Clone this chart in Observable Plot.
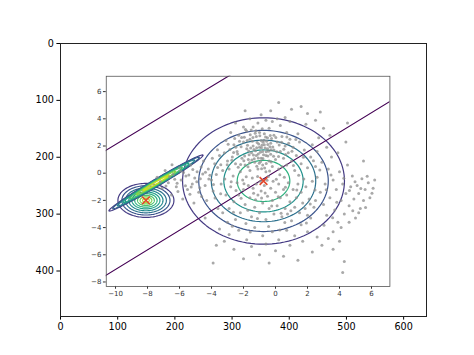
<!DOCTYPE html>
<html><head><meta charset="utf-8">
<script src="https://cdn.jsdelivr.net/npm/d3@7"></script>
<script src="https://cdn.jsdelivr.net/npm/@observablehq/plot@0.6"></script>
<style>
html,body{margin:0;padding:0;background:#fff;}
#wrap{position:relative;width:474px;height:355px;}
#wrap svg{position:absolute;left:0;top:0;}
</style></head><body><div id="wrap"></div>
<script>
// ---- outer axes (image pixel coordinates) ----
const outerXDomain = [0, 640];
const outerYDomain = [0, 480];
const outerXTicks = [0, 100, 200, 300, 400, 500, 600];
const outerYTicks = [0, 100, 200, 300, 400];

// ---- inner chart ----
const innerXDomain = [-10.58, 7.15];
const innerYDomain = [-8.33, 7.13];
const innerXTicks = [-10, -8, -6, -4, -2, 0, 2, 4, 6];
const innerYTicks = [-8, -6, -4, -2, 0, 2, 4, 6];

// Gaussian components: centre and two conjugate semi-axes of the outer contour
const compX  = [-0.75, -8.1, -7.47];
const compY  = [-0.57, -2.0, -0.72];
const compAx = [5.06, 1.75, 2.94];
const compAy = [0, 0, 2.05];
const compBx = [0, 0, 0.115];
const compBy = [4.65, 1.25, -0.23];

// contour rings: component, relative size, contour level (0..1)
const ringComp  = [0,0,0,0,0, 1,1,1,1,1,1,1,1,1, 2,2,2,2,2,2,2];
const ringScale = [1,0.8,0.645,0.49,0.325, 1,0.86,0.73,0.61,0.5,0.4,0.3,0.21,0.12, 1,0.92,0.82,0.7,0.56,0.42,0.28];
const ringLevel = [0.17,0.26,0.37,0.5,0.64, 0.17,0.26,0.37,0.47,0.56,0.64,0.72,0.8,0.88, 0.17,0.3,0.45,0.6,0.72,0.82,0.92];

// straight boundary lines (level 0)
const boundaryId = ["upper", "upper", "lower", "lower"];
const boundaryX  = [-10.7, -2.8, -10.7, 7.3];
const boundaryY  = [1.61, 7.24, -7.58, 5.39];

// component means (markers)
const meanX = [-0.75, -8.1];
const meanY = [-0.57, -2.0];

// scatter samples (x, y)
const samples = [
 [-7.4,-0.3],[-7.1,-1.1],[-6.9,0.2],[-6.7,-0.7],[-6.5,-1.6],[-6.4,-0.1],[-6.2,-1.0],[-6.0,0.4],[-5.9,-0.5],[-5.8,-1.9],
 [-5.6,-0.2],[-5.5,-1.2],[-5.3,0.6],[-5.2,-0.8],[-5.1,-2.2],[-4.9,0.1],[-4.8,-1.4],[-4.7,-0.4],[-4.5,0.9],[-4.4,-0.9],
 [-4.3,-2.0],[-4.2,0.3],[-4.0,-0.5],[-3.9,-1.3],[-3.8,0.7],[-3.7,-0.1],[-3.6,-2.6],[-3.5,1.3],[-3.4,-0.8],[-3.3,0.2],
 [-6.3,-0.45],[-5.75,0.05],[-5.05,-0.35],[-4.55,-0.05],[-6.85,-0.95],[-4.1,-0.15],[-5.35,-1.55],[-6.1,-1.35],[-4.65,0.45],[-3.95,1.1],
 [-7.2,-0.62],[-6.62,-0.27],[-6.15,-0.73],[-5.93,0.17],[-5.63,-0.93],[-5.42,-0.13],[-5.17,0.27],[-4.92,-0.62],[-4.73,-1.07],[-4.38,0.07],
 [-4.17,-0.42],[-3.88,-0.83],[-3.62,0.42],[-3.43,-1.52],[-3.17,-0.43],[-3.02,0.63],[-6.47,0.62],[-5.27,-1.02],[-4.62,-1.72],[-3.78,-1.82],
 [-2.9,0.3],[-2.7,1.2],[-2.6,2.1],[-2.5,0.7],[-2.4,1.6],[-2.3,2.8],[-2.2,0.1],[-2.1,1.1],[-2.0,2.3],[-1.9,0.6],
 [-1.8,1.8],[-1.8,3.1],[-1.7,1.0],[-1.6,2.5],[-1.6,0.2],[-1.5,1.5],[-1.4,3.4],[-1.4,2.0],[-1.3,0.8],[-1.2,2.7],
 [-1.2,1.3],[-1.1,0.3],[-1.0,1.9],[-1.0,3.0],[-0.9,1.1],[-0.9,2.4],[-0.8,0.6],[-0.8,1.6],[-0.7,2.9],[-0.7,2.1],
 [-0.6,1.3],[-0.6,0.1],[-0.5,2.6],[-0.5,1.8],[-0.4,0.9],[-0.4,3.3],[-0.3,2.2],[-0.3,1.4],[-0.2,0.5],[-0.1,2.8],
 [-0.1,1.7],[0.0,1.0],[0.1,2.3],[0.2,0.3],[0.3,1.6],[0.4,2.7],[0.5,1.1],[0.6,2.0],[0.7,0.6],[0.8,1.5],
 [0.9,2.5],[1.0,0.9],[1.1,1.9],[1.2,0.2],[1.3,1.3],[1.5,2.3],[1.6,0.7],[1.8,1.7],[2.0,0.4],[2.2,1.2],
 [-2.85,1.75],[-2.55,2.55],[-2.15,1.95],[-1.95,2.65],[-1.65,1.35],[-1.35,1.75],[-1.15,2.25],[-0.95,1.55],[-0.85,2.05],[-0.65,1.85],
 [-0.55,2.35],[-0.35,1.95],[-0.25,2.55],[-1.45,2.35],[-1.25,1.65],[-1.05,2.15],[-0.75,1.35],[-1.55,1.85],[-2.25,2.35],[-1.75,2.05],
 [-3.2,1.5],[-3.1,2.4],[-3.0,0.9],[-2.8,3.0],[-2.0,3.4],[-1.1,3.7],[0.3,3.5],[0.7,3.0],[1.4,2.9],[-0.2,3.8],
 [-2.65,-0.2],[-1.45,-0.35],[-0.45,-0.25],[0.55,-0.3],[1.45,-0.15],[-2.05,-0.5],[-0.95,-0.6],[0.05,-0.45],[2.5,0.5],[2.6,1.6],
 [-2.37,1.42],[-2.18,0.64],[-1.93,1.27],[-1.72,0.47],[-1.58,2.83],[-1.33,1.07],[-1.17,0.52],[-0.98,2.76],[-0.87,0.33],[-0.72,2.43],
 [-0.58,0.71],[-0.43,1.62],[-0.27,0.83],[-0.12,1.24],[0.08,1.57],[0.23,2.07],[0.41,0.47],[0.63,1.38],[0.82,2.21],[1.03,1.62],
 [-2.73,0.96],[-2.48,1.91],[-2.12,2.62],[-1.88,3.22],[-1.62,0.77],[-1.41,2.62],[-1.22,3.12],[-1.08,1.41],[-0.93,0.86],[-0.79,1.09],
 [-0.62,2.66],[-0.48,1.27],[-0.33,2.77],[-0.17,1.92],[0.02,2.62],[0.19,1.22],[0.38,2.28],[0.52,1.77],[0.71,2.66],[1.27,2.48],
 [-2.96,2.13],[-2.62,1.52],[-2.33,0.44],[-1.98,0.91],[-1.77,2.41],[-1.52,3.17],[-1.27,2.93],[-1.02,0.73],[-0.83,3.27],[-0.68,0.38],
 [-3.42,0.63],[-3.63,1.72],[-2.77,-0.63],[-1.83,-0.27],[-1.12,-0.24],[-0.37,0.17],[0.27,-0.12],[1.12,0.57],[1.74,1.17],[2.37,0.92],
 [-1.68,1.63],[-1.48,0.97],[-1.18,1.87],[-0.88,1.87],[-0.58,1.57],[-0.28,1.72],[-1.38,1.33],[-1.08,1.12],[-0.78,2.27],[-0.48,2.12],
 [-2.8,-1.0],[-2.6,-2.1],[-2.4,-0.7],[-2.3,-1.6],[-2.2,-2.9],[-2.0,-1.2],[-1.9,-2.3],[-1.7,-0.9],[-1.6,-1.8],[-1.5,-3.2],
 [-1.4,-1.1],[-1.3,-2.5],[-1.2,-0.8],[-1.1,-1.6],[-1.0,-2.9],[-0.9,-1.3],[-0.8,-2.2],[-0.7,-0.9],[-0.6,-3.4],[-0.5,-1.7],
 [-0.4,-2.6],[-0.3,-1.1],[-0.2,-2.0],[-0.1,-3.0],[0.0,-1.4],[0.1,-2.4],[0.2,-0.8],[0.3,-1.8],[0.4,-3.2],[0.5,-1.2],
 [0.6,-2.6],[0.7,-1.6],[0.8,-0.7],[0.9,-2.1],[1.0,-3.5],[1.1,-1.2],[1.2,-2.5],[1.3,-1.8],[1.4,-0.8],[1.5,-2.9],
 [1.6,-1.4],[1.7,-2.2],[1.9,-1.0],[2.0,-3.1],[2.1,-1.9],[2.3,-0.6],[2.4,-2.5],[-2.9,-2.6],[-3.1,-1.6],[-2.5,-3.4],
 [-1.85,-3.7],[-0.65,-1.45],[-0.15,-0.6],[0.35,-2.95],[-1.25,-1.95],[-2.15,-1.85],[0.75,-3.0],[1.85,-2.6],[-3.3,-2.9],[-2.7,-3.9],
 [-2.47,-1.27],[-1.97,-0.77],[-1.73,-2.73],[-1.37,-1.47],[-0.87,-1.83],[-0.53,-0.52],[-0.24,-2.42],[0.17,-1.73],[0.62,-1.03],[0.96,-2.77],
 [1.33,-1.23],[1.77,-0.43],[2.17,-2.27],[-2.63,-2.87],[-1.13,-3.33],[0.58,-3.63],[-0.43,-3.92],[-1.58,-4.33],[0.27,-4.17],[1.93,-3.67],
 [2.6,-0.3],[2.8,-1.4],[2.9,0.8],[3.0,-2.3],[3.1,-0.8],[3.2,-3.1],[3.3,0.3],[3.4,-1.8],[3.5,1.2],[3.6,-0.5],
 [3.7,-2.7],[3.8,-1.2],[3.9,-3.6],[4.0,0.1],[4.1,-2.0],[4.2,-0.8],[4.3,-3.0],[4.4,-1.5],[4.5,0.6],[4.6,-2.4],
 [4.7,-1.0],[4.8,-0.2],[4.9,-1.9],[5.0,-3.3],[5.1,-0.9],[5.2,-1.5],[5.3,-2.6],[5.4,-0.4],[5.5,-2.0],[5.6,-1.2],
 [5.8,-0.7],[5.9,-1.8],[6.1,-1.1],[6.2,-0.5],[2.3,2.1],[2.7,2.6],[3.2,1.9],[3.9,1.5],[4.4,2.3],[2.5,-2.0],
 [2.2,-3.3],[4.1,-4.0],[3.6,-4.3],[4.6,-3.6],[5.2,-2.9],
 [2.77,0.23],[3.17,-1.22],[3.47,-0.13],[3.83,-2.13],[4.27,-0.37],[4.62,-1.27],[4.97,-0.63],[5.33,-1.13],[5.73,-0.23],[6.03,-1.47],
 [2.47,-1.23],[3.03,-3.82],[3.57,-3.27],[4.83,-2.77],[5.63,-2.52],
 [-3.5,-4.1],[-3.2,-5.0],[-2.9,-4.5],[-2.6,-5.6],[-2.3,-4.2],[-2.0,-6.3],[-1.8,-4.9],[-1.5,-5.4],[-1.3,-4.0],[-1.0,-6.0],
 [-0.8,-4.6],[-0.6,-5.2],[-0.4,-6.6],[-0.2,-4.3],[0.0,-5.7],[0.2,-4.9],[0.5,-6.1],[0.7,-4.2],[0.9,-5.3],[1.2,-4.6],
 [1.4,-6.4],[1.7,-5.0],[2.0,-4.3],[2.3,-5.8],[2.6,-4.7],[2.9,-5.3],[3.3,-4.8],[3.6,-5.6],[4.0,-5.0],[4.3,-6.5],
 [-3.9,-6.6],[-3.7,-5.3],[-4.4,-3.3],[-3.0,-3.6],[1.6,-3.8],[4.2,-7.3],
 [-1.6,4.0],[-0.9,4.3],[-0.3,4.6],[0.2,5.2],[0.6,4.1],[1.0,4.7],[1.6,4.9],[2.0,4.4],[-1.9,4.6],[0.9,3.8],
 [1.9,3.6],[2.5,3.9],[3.0,3.3],[-0.6,3.9],[0.1,4.0],[-2.5,3.7],[3.4,2.8],[4.5,3.7],[2.8,4.5],[5.5,0.9]
];

// ---- build tables for the marks ----
const ringRows = [];
ringComp.forEach((c, i) => {
  const s = ringScale[i];
  for (let k = 0; k <= 120; k++) {
    const t = 2 * Math.PI * k / 120;
    ringRows.push({
      ring: i, level: ringLevel[i],
      x: compX[c] + s * (Math.cos(t) * compAx[c] + Math.sin(t) * compBx[c]),
      y: compY[c] + s * (Math.cos(t) * compAy[c] + Math.sin(t) * compBy[c])
    });
  }
});
const boundaryRows = boundaryId.map((id, i) => ({id, x: boundaryX[i], y: boundaryY[i], level: 0}));
const meanRows = meanX.map((x, i) => ({x, y: meanY[i]}));
const sampleRows = samples.map(([x, y]) => ({x, y}));

const W = 474, H = 355;
const outer = Plot.plot({
  width: W, height: H,
  marginLeft: 60, marginRight: 48, marginTop: 43, marginBottom: 39,
  style: {fontFamily: "DejaVu Sans", fontSize: "9.6px", color: "#000", background: "#fff"},
  x: {domain: outerXDomain, ticks: outerXTicks, tickSize: 3.6, tickPadding: 3, label: null},
  y: {domain: outerYDomain, reverse: true, ticks: outerYTicks, tickSize: 3.6, tickPadding: 3, label: null},
  marks: [
    Plot.frame({stroke: "#222", strokeWidth: 1})
  ]
});

const inner = Plot.plot({
  width: W, height: H,
  marginLeft: 105.75, marginRight: 84.6, marginTop: 75.76, marginBottom: 69.04,
  style: {fontFamily: "DejaVu Sans", fontSize: "7px", color: "#333", background: "transparent"},
  x: {domain: innerXDomain, ticks: innerXTicks, tickSize: 2.8, tickPadding: 2, label: null},
  y: {domain: innerYDomain, ticks: innerYTicks, tickSize: 2.8, tickPadding: 2, label: null},
  color: {type: "linear", scheme: "viridis", domain: [0, 1]},
  marks: [
    Plot.line(ringRows, {x: "x", y: "y", z: "ring", stroke: "level", strokeWidth: 1.2, clip: true}),
    Plot.line(boundaryRows, {x: "x", y: "y", z: "id", stroke: "level", strokeWidth: 1.1, clip: true}),
    Plot.dot(sampleRows, {x: "x", y: "y", r: 1.5, fill: "#8c8c8c", fillOpacity: 0.75, clip: true}),
    Plot.dot(meanRows, {x: "x", y: "y", symbol: "times", r: 3.6, stroke: "#e2472b", strokeWidth: 1.6}),
    Plot.frame({stroke: "#555", strokeWidth: 0.8})
  ]
});

const wrap = document.getElementById("wrap");
wrap.appendChild(outer);
wrap.appendChild(inner);
</script>
</body></html>
